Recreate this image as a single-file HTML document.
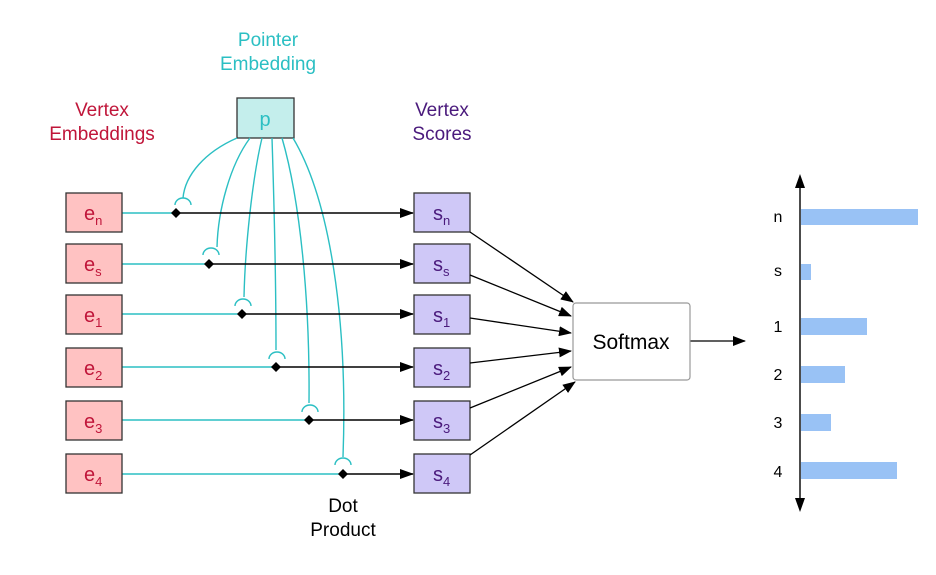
<!DOCTYPE html>
<html><head><style>
body{margin:0;background:#fff}
svg text{font-family:"Liberation Sans",sans-serif}
</style></head><body>
<svg width="936" height="570" viewBox="0 0 936 570" xmlns="http://www.w3.org/2000/svg">
<defs>
<marker id="a" markerWidth="13" markerHeight="10" refX="12" refY="5" orient="auto" markerUnits="userSpaceOnUse"><path d="M0,0 L13,5 L0,10z" fill="#000"/></marker>
<marker id="a2" markerWidth="14" markerHeight="10" refX="13" refY="5" orient="auto" markerUnits="userSpaceOnUse"><path d="M0,0 L14,5 L0,10z" fill="#000"/></marker>
</defs>
<g font-size="19" text-anchor="middle">
<text x="102" y="116" fill="#c0163a">Vertex</text>
<text x="102" y="140" fill="#c0163a">Embeddings</text>
<text x="268" y="46" fill="#2bbfc3">Pointer</text>
<text x="268" y="70" fill="#2bbfc3">Embedding</text>
<text x="442" y="116" fill="#4a1a7c">Vertex</text>
<text x="442" y="140" fill="#4a1a7c">Scores</text>
<text x="343" y="512" fill="#000">Dot</text>
<text x="343" y="536" fill="#000">Product</text>
</g>
<rect x="237" y="98" width="57" height="40" fill="#c4eeec" stroke="#333" stroke-width="1.3"/>
<text x="265" y="126" font-size="20" fill="#2bbfc3" text-anchor="middle">p</text>
<g fill="none" stroke="#2bbfc3" stroke-width="1.4">
<path d="M237,138 C205,152 185,175 183,198"/>
<path d="M250,138 C230,165 218,210 217,247"/>
<path d="M262,138 C252,180 245,250 244,297"/>
<path d="M272,138 C274,200 276,280 276,350"/>
<path d="M282,138 C300,200 310,300 309,403"/>
<path d="M293,138 C330,200 348,320 343,457"/>
</g>
<g fill="none" stroke="#2bbfc3" stroke-width="1.4">
<path d="M175,205 a8,7 0 0 1 16,0"/>
<path d="M203,255 a8,7 0 0 1 16,0"/>
<path d="M235,306 a8,7 0 0 1 16,0"/>
<path d="M269,359 a8,7 0 0 1 16,0"/>
<path d="M302,412 a8,7 0 0 1 16,0"/>
<path d="M335,465 a8,7 0 0 1 16,0"/>
</g>
<g stroke-width="1.4">
<line x1="122" y1="213" x2="176" y2="213" stroke="#2bbfc3"/>
<line x1="176" y1="213" x2="413" y2="213" stroke="#000" marker-end="url(#a2)"/>
<line x1="122" y1="264" x2="209" y2="264" stroke="#2bbfc3"/>
<line x1="209" y1="264" x2="413" y2="264" stroke="#000" marker-end="url(#a2)"/>
<line x1="122" y1="314" x2="242" y2="314" stroke="#2bbfc3"/>
<line x1="242" y1="314" x2="413" y2="314" stroke="#000" marker-end="url(#a2)"/>
<line x1="122" y1="367" x2="276" y2="367" stroke="#2bbfc3"/>
<line x1="276" y1="367" x2="413" y2="367" stroke="#000" marker-end="url(#a2)"/>
<line x1="122" y1="420" x2="309" y2="420" stroke="#2bbfc3"/>
<line x1="309" y1="420" x2="413" y2="420" stroke="#000" marker-end="url(#a2)"/>
<line x1="122" y1="474" x2="343" y2="474" stroke="#2bbfc3"/>
<line x1="343" y1="474" x2="413" y2="474" stroke="#000" marker-end="url(#a2)"/>
</g>
<g fill="#000">
<path d="M176,208 l5,5 -5,5 -5,-5z"/>
<path d="M209,259 l5,5 -5,5 -5,-5z"/>
<path d="M242,309 l5,5 -5,5 -5,-5z"/>
<path d="M276,362 l5,5 -5,5 -5,-5z"/>
<path d="M309,415 l5,5 -5,5 -5,-5z"/>
<path d="M343,469 l5,5 -5,5 -5,-5z"/>
</g>
<g fill="#ffc2c2" stroke="#333" stroke-width="1.3">
<rect x="66" y="193" width="56" height="39"/>
<rect x="66" y="244" width="56" height="39"/>
<rect x="66" y="295" width="56" height="39"/>
<rect x="66" y="348" width="56" height="39"/>
<rect x="66" y="401" width="56" height="39"/>
<rect x="66" y="454" width="56" height="39"/>
</g>
<g fill="#cfc8f7" stroke="#333" stroke-width="1.3">
<rect x="414" y="193" width="56" height="39"/>
<rect x="414" y="244" width="56" height="39"/>
<rect x="414" y="295" width="56" height="39"/>
<rect x="414" y="348" width="56" height="39"/>
<rect x="414" y="401" width="56" height="39"/>
<rect x="414" y="454" width="56" height="39"/>
</g>
<g font-size="20" fill="#c0163a">
<text x="84" y="220">e<tspan font-size="13" dy="5">n</tspan></text>
<text x="84" y="271">e<tspan font-size="13" dy="5">s</tspan></text>
<text x="84" y="322">e<tspan font-size="13" dy="5">1</tspan></text>
<text x="84" y="375">e<tspan font-size="13" dy="5">2</tspan></text>
<text x="84" y="428">e<tspan font-size="13" dy="5">3</tspan></text>
<text x="84" y="481">e<tspan font-size="13" dy="5">4</tspan></text>
</g>
<g font-size="20" fill="#4a1a7c">
<text x="433" y="220">s<tspan font-size="13" dy="5">n</tspan></text>
<text x="433" y="271">s<tspan font-size="13" dy="5">s</tspan></text>
<text x="433" y="322">s<tspan font-size="13" dy="5">1</tspan></text>
<text x="433" y="375">s<tspan font-size="13" dy="5">2</tspan></text>
<text x="433" y="428">s<tspan font-size="13" dy="5">3</tspan></text>
<text x="433" y="481">s<tspan font-size="13" dy="5">4</tspan></text>
</g>
<g stroke="#000" stroke-width="1.3" marker-end="url(#a)">
<line x1="470" y1="232" x2="573" y2="302"/>
<line x1="470" y1="275" x2="571" y2="316"/>
<line x1="470" y1="318" x2="571" y2="333"/>
<line x1="470" y1="363" x2="571" y2="351"/>
<line x1="470" y1="408" x2="571" y2="367"/>
<line x1="470" y1="455" x2="575" y2="382"/>
<line x1="690" y1="341" x2="745" y2="341"/>
</g>
<rect x="573" y="303" width="117" height="77" rx="3" fill="#fff" stroke="#999" stroke-width="1.2"/>
<text x="631" y="349" font-size="21" text-anchor="middle">Softmax</text>
<line x1="800" y1="178" x2="800" y2="508" stroke="#000" stroke-width="1.4"/>
<path d="M800,174 l-5,14 h10z M800,512 l-5,-14 h10z" fill="#000"/>
<g fill="#99c2f5">
<rect x="801" y="209" width="117" height="16"/>
<rect x="801" y="264" width="10" height="16"/>
<rect x="801" y="318" width="66" height="17"/>
<rect x="801" y="366" width="44" height="17"/>
<rect x="801" y="414" width="30" height="17"/>
<rect x="801" y="462" width="96" height="17"/>
</g>
<g font-size="16" text-anchor="middle">
<text x="778" y="222">n</text>
<text x="778" y="276">s</text>
<text x="778" y="332">1</text>
<text x="778" y="380">2</text>
<text x="778" y="428">3</text>
<text x="778" y="477">4</text>
</g>
</svg>
</body></html>
